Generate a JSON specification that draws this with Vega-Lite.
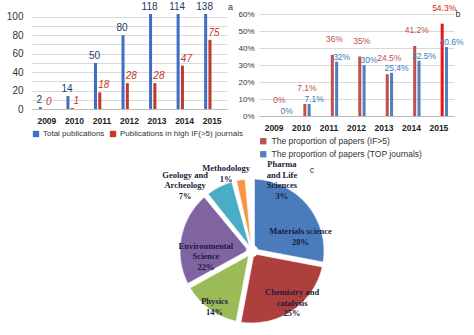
{
  "$schema": "https://vega.github.io/schema/vega-lite/v6.json",
  "background": "white",
  "padding": {"left": 6, "top": 2, "right": 2, "bottom": 0},
  "config": {
    "view": {"stroke": null},
    "font": "Liberation Sans",
    "axis": {"labelFont": "Liberation Sans", "labelColor": "#333333", "titleFont": "Liberation Sans"},
    "legend": {"labelFont": "Liberation Sans", "labelColor": "#333333"},
    "title": {"font": "Liberation Sans", "fontSize": 9, "fontWeight": "normal", "color": "#333333"}
  },
  "spacing": 0,
  "resolve": {"scale": {"color": "independent"}, "legend": {"color": "independent"}},
  "vconcat": [
    {
      "spacing": 32,
      "bounds": "flush",
      "resolve": {"scale": {"color": "independent"}, "legend": {"color": "independent"}},
      "hconcat": [
        {
          "width": 195,
          "height": 95,
          "title": {"text": "a", "anchor": "end", "offset": -10, "dx": -10},
          "data": {"values": [
            {"year": "2009", "series": "Total publications", "n": 2},
            {"year": "2009", "series": "Publications in high IF(>5) journals", "n": 0},
            {"year": "2010", "series": "Total publications", "n": 14},
            {"year": "2010", "series": "Publications in high IF(>5) journals", "n": 1},
            {"year": "2011", "series": "Total publications", "n": 50},
            {"year": "2011", "series": "Publications in high IF(>5) journals", "n": 18},
            {"year": "2012", "series": "Total publications", "n": 80},
            {"year": "2012", "series": "Publications in high IF(>5) journals", "n": 28},
            {"year": "2013", "series": "Total publications", "n": 118},
            {"year": "2013", "series": "Publications in high IF(>5) journals", "n": 28},
            {"year": "2014", "series": "Total publications", "n": 114},
            {"year": "2014", "series": "Publications in high IF(>5) journals", "n": 47},
            {"year": "2015", "series": "Total publications", "n": 138},
            {"year": "2015", "series": "Publications in high IF(>5) journals", "n": 75}
          ]},
          "encoding": {
            "x": {"field": "year", "type": "nominal", "title": null,
                  "scale": {"paddingInner": 0.42, "paddingOuter": 0.25},
                  "axis": {"labelAngle": 0, "labelFontWeight": "bold", "labelFontSize": 8.5, "labelColor": "#222222", "domainColor": "#bbbbbb", "ticks": false, "labelPadding": 7}},
            "xOffset": {"field": "series", "scale": {"domain": ["Total publications", "Publications in high IF(>5) journals"], "paddingInner": 0.3}},
            "y": {"field": "n", "type": "quantitative", "title": null,
                  "scale": {"domain": [0, 103], "clamp": true, "nice": false},
                  "axis": {"values": [0, 10, 20, 30, 40, 50, 60, 70, 80, 90, 100], "labelFontSize": 10, "domain": false, "ticks": false, "gridColor": "#d9d9d9", "labelPadding": 9}}
          },
          "layer": [
            {"mark": {"type": "bar"},
             "encoding": {"color": {"field": "series", "type": "nominal",
                                    "scale": {"domain": ["Total publications", "Publications in high IF(>5) journals"], "range": ["#3f6fc4", "#c0392b"]},
                                    "legend": {"title": null, "orient": "bottom", "direction": "horizontal", "symbolType": "square", "labelFontSize": 8, "symbolSize": 40, "columnPadding": 4, "labelOffset": 3, "offset": 5}}}},
            {"transform": [{"filter": "datum.series === 'Total publications'"}],
             "mark": {"type": "text", "dy": -7, "dx": -1, "fontSize": 10, "color": "#1f3a68"},
             "encoding": {"text": {"field": "n", "type": "quantitative"}}},
            {"transform": [{"filter": "datum.series !== 'Total publications'"}],
             "mark": {"type": "text", "dy": -7, "dx": 4, "fontSize": 10, "fontStyle": "italic", "color": "#c0392b"},
             "encoding": {"text": {"field": "n", "type": "quantitative"}}}
          ]
        },
        {
          "width": 195,
          "height": 102,
          "title": {"text": "b", "anchor": "end", "offset": -15, "dx": -3},
          "data": {"values": [
            {"year": "2009", "kind": "The proportion of papers (IF>5)", "p": 0},
            {"year": "2009", "kind": "The proportion of papers (TOP journals)", "p": 0},
            {"year": "2010", "kind": "The proportion of papers (IF>5)", "p": 0.071},
            {"year": "2010", "kind": "The proportion of papers (TOP journals)", "p": 0.071},
            {"year": "2011", "kind": "The proportion of papers (IF>5)", "p": 0.36},
            {"year": "2011", "kind": "The proportion of papers (TOP journals)", "p": 0.32},
            {"year": "2012", "kind": "The proportion of papers (IF>5)", "p": 0.35},
            {"year": "2012", "kind": "The proportion of papers (TOP journals)", "p": 0.30},
            {"year": "2013", "kind": "The proportion of papers (IF>5)", "p": 0.245},
            {"year": "2013", "kind": "The proportion of papers (TOP journals)", "p": 0.254},
            {"year": "2014", "kind": "The proportion of papers (IF>5)", "p": 0.412},
            {"year": "2014", "kind": "The proportion of papers (TOP journals)", "p": 0.325},
            {"year": "2015", "kind": "The proportion of papers (IF>5)", "p": 0.543},
            {"year": "2015", "kind": "The proportion of papers (TOP journals)", "p": 0.406}
          ]},
          "encoding": {
            "x": {"field": "year", "type": "nominal", "title": null,
                  "scale": {"paddingInner": 0.5, "paddingOuter": 0.3},
                  "axis": {"labelAngle": 0, "labelFontWeight": "bold", "labelFontSize": 8.5, "labelColor": "#222222", "domainColor": "#bbbbbb", "ticks": false, "labelPadding": 7}},
            "xOffset": {"field": "kind", "scale": {"domain": ["The proportion of papers (IF>5)", "The proportion of papers (TOP journals)"], "paddingInner": 0.05}},
            "y": {"field": "p", "type": "quantitative", "title": null,
                  "scale": {"domain": [0, 0.6], "nice": false},
                  "axis": {"values": [0, 0.1, 0.2, 0.3, 0.4, 0.5, 0.6], "format": ".0%", "labelFontSize": 8, "domain": false, "ticks": false, "gridColor": "#d9d9d9", "labelPadding": 5}}
          },
          "layer": [
            {"mark": {"type": "bar"},
             "encoding": {"color": {"field": "kind", "type": "nominal",
                                    "scale": {"domain": ["The proportion of papers (IF>5)", "The proportion of papers (TOP journals)"], "range": ["#c0504d", "#4f81bd"]},
                                    "condition": {"test": "datum.year === '2015' && datum.kind === 'The proportion of papers (IF>5)'", "value": "#e8161a"},
                                    "legend": {"title": null, "orient": "bottom", "direction": "vertical", "symbolType": "square", "labelFontSize": 8.5, "symbolSize": 40, "rowPadding": 4, "labelOffset": 4, "offset": 5}}}},
            {"transform": [{"filter": "datum.kind === 'The proportion of papers (IF>5)'"}],
             "mark": {"type": "text", "dy": -16, "dx": 2, "fontSize": 8.5, "color": "#c0504d"},
             "encoding": {"text": {"field": "p", "type": "quantitative", "format": ".1~%"},
                          "color": {"condition": {"test": "datum.year === '2015'", "value": "#d9261c"}, "value": "#c0504d"}}},
            {"transform": [{"filter": "datum.kind !== 'The proportion of papers (IF>5)'"}],
             "mark": {"type": "text", "dy": -5, "dx": 5, "fontSize": 8.5, "color": "#3a7ab8"},
             "encoding": {"text": {"field": "p", "type": "quantitative", "format": ".1~%"}}}
          ]
        }
      ]
    },
    {
      "width": 440,
      "height": 156,
      "title": {"text": "c", "anchor": "middle", "dx": 60, "offset": -16},
      "data": {"values": [
        {"i": 1, "name": "Materials science", "v": 28, "label": "Materials science\n28%"},
        {"i": 2, "name": "Chemistry and catalysis", "v": 25, "label": "Chemistry and\ncatalysis\n\n25%"},
        {"i": 3, "name": "Physics", "v": 14, "label": "Physics\n14%"},
        {"i": 4, "name": "Environmental Science", "v": 22, "label": "Environmental\nScience\n22%"},
        {"i": 5, "name": "Geology and Archeology", "v": 7, "label": "Geology and\nArcheology\n7%"},
        {"i": 6, "name": "Pharma and Life Sciences", "v": 3, "label": "Pharma\nand Life\nSciences\n3%"},
        {"i": 7, "name": "Methodology", "v": 1, "label": "Methodology\n1%"}
      ]},
      "encoding": {
        "theta": {"field": "v", "type": "quantitative", "stack": true},
        "order": {"field": "i", "type": "quantitative"}
      },
      "layer": [
        {"mark": {"type": "arc", "outerRadius": 72, "innerRadius": 6, "padAngle": 0.07, "stroke": "#ffffff", "strokeWidth": 0.5},
         "encoding": {"color": {"field": "name", "type": "nominal",
                                "scale": {"domain": ["Materials science", "Chemistry and catalysis", "Physics", "Environmental Science", "Geology and Archeology", "Pharma and Life Sciences", "Methodology"],
                                          "range": ["#4a7bbd", "#ad3f3c", "#9bbb59", "#8064a2", "#4bacc6", "#f79646", "#a9c6e8"]},
                                "legend": null}}},
        {"mark": {"type": "text", "radius": 50, "dx": 10, "dy": 12, "font": "Liberation Serif", "fontWeight": "bold", "fontSize": 8.5, "lineBreak": "\n", "color": "#1c1c3a"},
         "encoding": {"text": {"field": "label"},
                      "opacity": {"condition": {"test": "datum.i === 1", "value": 1}, "value": 0}}},
        {"mark": {"type": "text", "radius": 50, "dx": 12, "dy": 0, "font": "Liberation Serif", "fontWeight": "bold", "fontSize": 8.5, "lineBreak": "\n", "color": "#1c1c3a"},
         "encoding": {"text": {"field": "label"},
                      "opacity": {"condition": {"test": "datum.i === 2", "value": 1}, "value": 0}}},
        {"mark": {"type": "text", "radius": 50, "dx": -8, "dy": 10, "font": "Liberation Serif", "fontWeight": "bold", "fontSize": 8.5, "lineBreak": "\n", "color": "#1c1c3a"},
         "encoding": {"text": {"field": "label"},
                      "opacity": {"condition": {"test": "datum.i === 3", "value": 1}, "value": 0}}},
        {"mark": {"type": "text", "radius": 50, "dx": 3, "dy": 4, "font": "Liberation Serif", "fontWeight": "bold", "fontSize": 8.5, "lineBreak": "\n", "color": "#1c1c3a"},
         "encoding": {"text": {"field": "label"},
                      "opacity": {"condition": {"test": "datum.i === 4", "value": 1}, "value": 0}}},
        {"mark": {"type": "text", "radius": 90, "dx": -26, "dy": 4, "font": "Liberation Serif", "fontWeight": "bold", "fontSize": 8.5, "lineBreak": "\n", "color": "#1c1c3a"},
         "encoding": {"text": {"field": "label"},
                      "opacity": {"condition": {"test": "datum.i === 5", "value": 1}, "value": 0}}},
        {"mark": {"type": "text", "radius": 90, "dx": 44, "dy": 2, "font": "Liberation Serif", "fontWeight": "bold", "fontSize": 8.5, "lineBreak": "\n", "color": "#1c1c3a"},
         "encoding": {"text": {"field": "label"},
                      "opacity": {"condition": {"test": "datum.i === 6", "value": 1}, "value": 0}}},
        {"mark": {"type": "text", "radius": 90, "dx": -23, "dy": 7, "font": "Liberation Serif", "fontWeight": "bold", "fontSize": 8.5, "lineBreak": "\n", "color": "#1c1c3a"},
         "encoding": {"text": {"field": "label"},
                      "opacity": {"condition": {"test": "datum.i === 7", "value": 1}, "value": 0}}}
      ]
    }
  ]
}
